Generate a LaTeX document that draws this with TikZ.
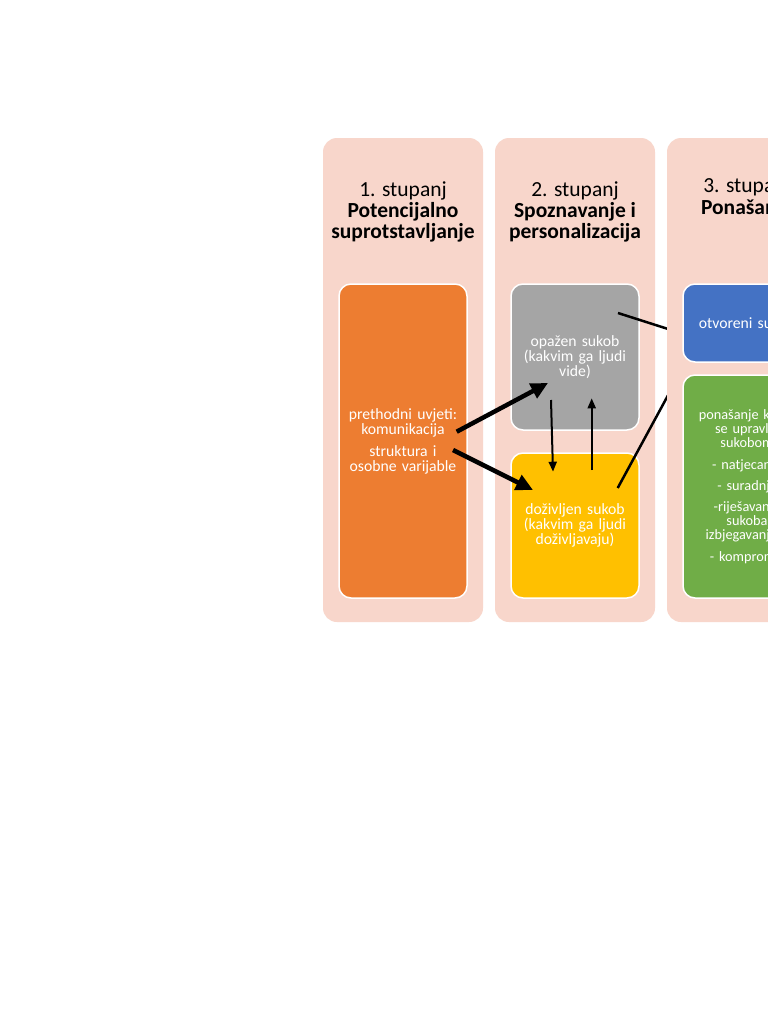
\documentclass[tikz,border=0pt]{standalone}
\usepackage{fontspec}
\setmainfont{Carlito}
\usetikzlibrary{arrows.meta}
\definecolor{colbg}{RGB}{248,214,203}
\definecolor{orangeb}{RGB}{237,125,49}
\definecolor{grayb}{RGB}{165,165,165}
\definecolor{yellowb}{RGB}{255,192,0}
\definecolor{blueb}{RGB}{68,114,196}
\definecolor{greenb}{RGB}{112,173,71}
\begin{document}
\begin{tikzpicture}[x=1bp,y=-1bp,
  column/.style={fill=colbg, rounded corners=14bp, minimum width=160bp, minimum height=484bp, inner sep=0pt},
  header/.style={align=center, inner sep=0pt, font=\fontsize{21.5bp}{21bp}\selectfont, text=black},
  inbox/.style={draw=white, line width=1.5bp, rounded corners=12bp, minimum width=128bp, inner sep=0pt,
     text=white, align=center, text width=126bp, font=\fontsize{15.7bp}{15bp}\selectfont},
  greentext/.style={font=\fontsize{14.3bp}{14bp}\selectfont},
  thick arrow/.style={line width=4.5bp, -{Triangle[length=17bp,width=16bp]}},
  thin arrow/.style={line width=2bp, -{Triangle[length=10bp,width=8bp]}},
  link/.style={line width=2.5bp}
]
\useasboundingbox (0,0) rectangle (768,1024);
\clip (0,0) rectangle (768,1024);
\fill[white] (0,0) rectangle (768,1024);

% columns 1 and 2
\node[column] (c1) at (403,380) {};
\node[column] (c2) at (575,380) {};

\node[header] (h1) at (403,212) {1. stupanj\\\textbf{Potencijalno}\\\textbf{suprotstavljanje}};
\node[header] (h2) at (575,212) {2. stupanj\\\textbf{Spoznavanje i}\\\textbf{personalizacija}};

% boxes of columns 1 and 2
\node[inbox, fill=orangeb, minimum height=314bp] (pre) at (403,441)
  {prethodni uvjeti:\\komunikacija\\[7bp]struktura i\\osobne varijable};
\node[inbox, fill=grayb, minimum height=146bp] (opa) at (575,357)
  {opažen sukob\\(kakvim ga ljudi\\vide)};
\node[inbox, fill=yellowb, minimum height=145bp] (dož) at (575,525.5)
  {doživljen sukob\\(kakvim ga ljudi\\doživljavaju)};

% links towards stage 3 (pass under column 3)
\coordinate (l1s) at (618,313);
\coordinate (l1e) at (690,336);
\coordinate (l2s) at (617.7,488);
\coordinate (l2e) at (685,364);
\draw[link] (l1s) -- (l1e);
\draw[link] (l2s) -- (l2e);

% column 3
\node[column] (c3) at (747,380) {};
\node[header] (h3) at (747,198) {3. stupanj\\[1bp]\textbf{Ponašanje}};
\node[inbox, fill=blueb, minimum height=78bp] (otv) at (747,323) {otvoreni sukob};
\node[inbox, fill=greenb, minimum height=223bp, greentext] (pon) at (747,486.5)
  {ponašanje kojim\\se upravlja\\sukobom\\[8bp]- natjecanje\\[7bp]- suradnja\\[7bp]-riješavanje\\sukoba\\izbjegavanjem\\[8bp]- kompromis};

% arrows
\coordinate (a1s) at (456.7,431.7);
\coordinate (a1e) at (548,383);
\coordinate (a2s) at (453,450);
\coordinate (a2e) at (533,490);
\draw[thick arrow] (a1s) -- (a1e);
\draw[thick arrow] (a2s) -- (a2e);
\coordinate (d1s) at (551,400);
\coordinate (d1e) at (553,471.7);
\coordinate (u1s) at (591.7,470);
\coordinate (u1e) at (591.7,398.3);
\draw[thin arrow] (d1s) -- (d1e);
\draw[thin arrow] (u1s) -- (u1e);
\end{tikzpicture}
\end{document}
